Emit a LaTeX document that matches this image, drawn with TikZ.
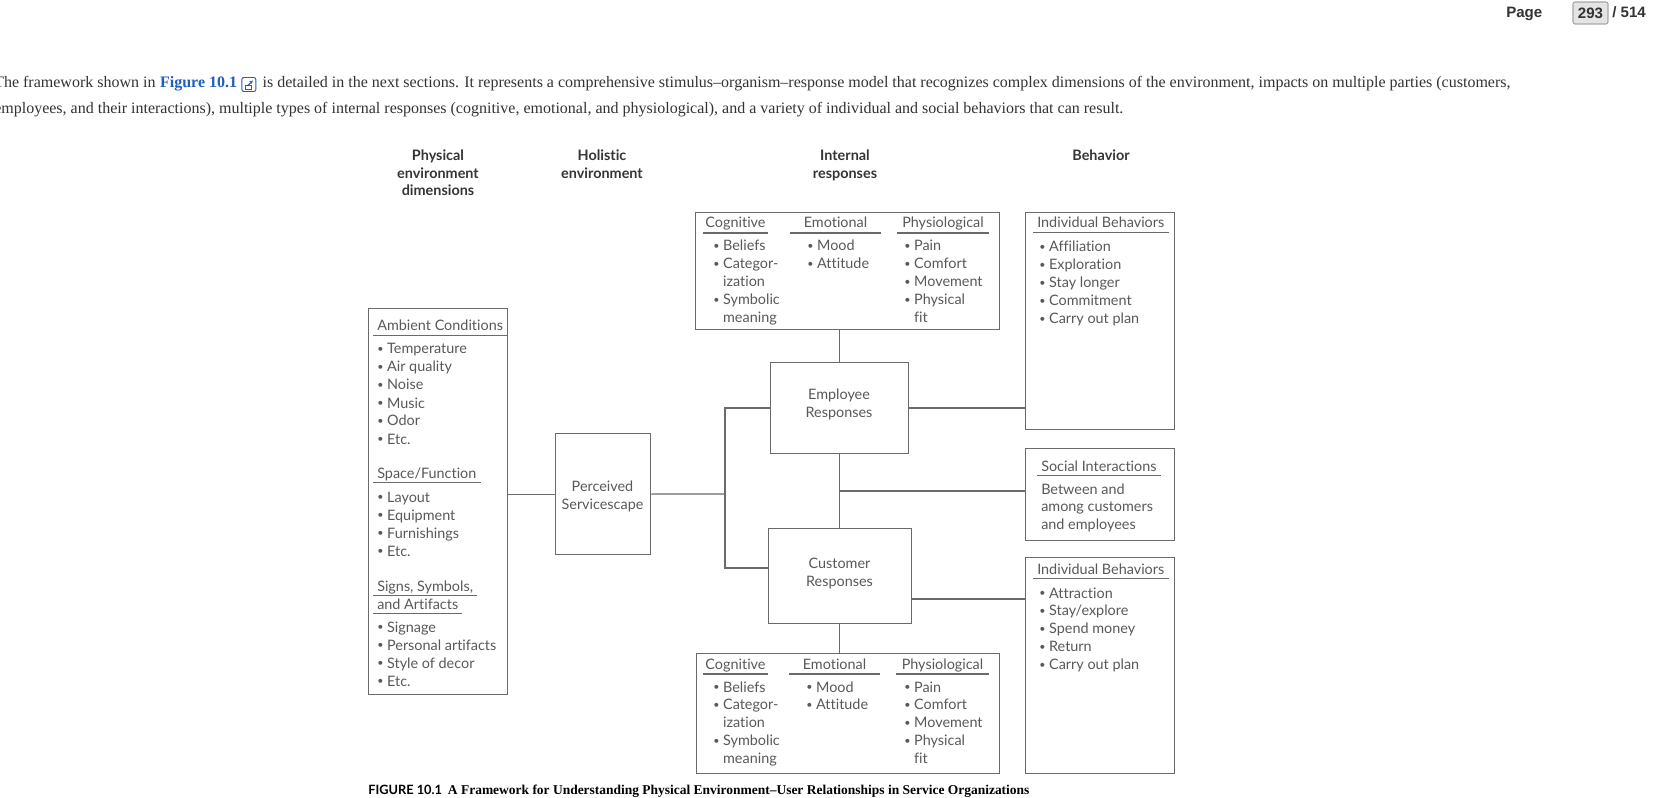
\documentclass[tikz,border=0pt]{standalone}
\usepackage{fontspec}
\setmainfont{Lato}[Ligatures={NoCommon,NoRequired,NoContextual}]
\newfontfamily\seriff{Liberation Serif}
\newfontfamily\arialf{Liberation Sans}
\usetikzlibrary{calc,arrows.meta}
\definecolor{txtgray}{HTML}{595959}
\definecolor{linegray}{HTML}{6A6A6A}
\definecolor{hdrgray}{HTML}{353535}
\definecolor{linkblue}{HTML}{1E5FC2}
\definecolor{paratext}{HTML}{333333}
\definecolor{pgfill}{HTML}{E4E4E4}
\definecolor{pgline}{HTML}{A8A8A8}
\newcommand\bul{\raisebox{0.9pt}{\fontsize{8}{8}\selectfont•}}
\tikzset{
  box/.style={draw=linegray, line width=0.85pt, rectangle, inner sep=0pt, anchor=north west},
  conn/.style={draw=linegray, line width=0.85pt},
  txt/.style={inner sep=0pt, font=\fontsize{10.8}{13}\selectfont, text=txtgray, anchor=base west},
  ctxt/.style={txt, anchor=base},
  bhdr/.style={inner sep=0pt, font=\fontsize{10.8}{13}\selectfont\bfseries, text=hdrgray, anchor=base},
  subhdr/.style={txt, inner xsep=3pt},
  uline/.style={draw=linegray, line width=0.8pt},
  para/.style={inner sep=0pt, font=\seriff\fontsize{12}{14}\selectfont, text=paratext, anchor=base west},
}
\newcommand\mkbox[5]{\node[box, minimum width={(#4-#2)*0.75pt}, minimum height={(#5-#3)*0.75pt}] (#1) at (#2,#3) {};}
\newcommand\tlines[6]{\foreach \t [count=\i] in {#6} {\node[#2] (#1\i) at (#3,{#4+#5*(\i-1)}) {\t};}}
\newcommand\uhdr[4]{\node[subhdr] (#1) at (#2,#3) {#4};
  \draw[uline] ([yshift=-3.6pt]#1.base west) -- ([yshift=-3.6pt]#1.base east);}
\newcommand\chdr[5]{\node[ctxt, minimum width={#4*0.75pt}] (#1) at (#2,#3) {#5};
  \draw[uline] ([yshift=-3.75pt]#1.base west) -- ([yshift=-3.75pt]#1.base east);}
\begin{document}
\begin{tikzpicture}[x=0.75pt,y=-0.75pt]
\useasboundingbox[fill=white] (0,0) rectangle (1663,798);

% ---- page header ----
\node[inner sep=0pt, anchor=base west, font=\arialf\bfseries\fontsize{11.3}{13}\selectfont, text=paratext] (pg) at (1506,18) {Page};
\node[draw=pgline, fill=pgfill, rounded corners=1.5pt, line width=0.8pt, minimum width={35*0.75pt}, minimum height={22*0.75pt}, inner sep=0pt, font=\arialf\bfseries\fontsize{11.3}{13}\selectfont, text=paratext] (pgnum) at (1590.5,13) {293};
\node[inner sep=0pt, anchor=base west, font=\arialf\bfseries\fontsize{11.3}{13}\selectfont, text=paratext] (pgtot) at (1612,18) {/ 514};

% ---- paragraph ----
\node[para] (p1a) at (-6,88) {The framework shown in};
\node[para, font=\seriff\bfseries\fontsize{12}{14}\selectfont, text=linkblue] (p1b) at ($(p1a.base east)+(3pt,0)$) {Figure 10.1};
\node[draw=linkblue, line width=0.7pt, rounded corners=1.5pt, minimum size=10.5pt, inner sep=0pt, anchor=south west] (icon) at ($(p1b.base east)+(3pt,-3pt)$) {};
\draw[linkblue, line width=0.7pt] ($(icon.center)+(-2.5pt,-0.5pt)$) rectangle ($(icon.center)+(2pt,-3.5pt)$);
\draw[linkblue, line width=0.7pt, -{Stealth[length=2.6pt,width=2.6pt]}] ($(icon.center)+(-1pt,-1pt)$) -- ($(icon.center)+(3pt,3pt)$);
\node[para] (p1c) at ($(icon.east |- p1a.base)+(4.5pt,0)$) {is detailed in the next sections. It represents a comprehensive stimulus–organism–response model that recognizes complex dimensions of the environment, impacts on multiple parties (customers,};
\node[para] (p2) at (-6,114) {employees, and their interactions), multiple types of internal responses (cognitive, emotional, and physiological), and a variety of individual and social behaviors that can result.};

% ---- column headers ----
\tlines{hphys}{bhdr}{438}{161}{17.5}{Physical,environment,dimensions}
\tlines{hhol}{bhdr}{602}{161}{17.5}{Holistic,environment}
\tlines{hint}{bhdr}{845}{161}{17.5}{Internal,responses}
\tlines{hbeh}{bhdr}{1101}{161}{17.5}{Behavior}

% ---- boxes ----
\mkbox{amb}{368}{308}{507}{694}
\mkbox{perc}{555}{433}{650}{554}
\mkbox{emp}{770}{362}{908}{453}
\mkbox{cus}{768}{528}{911}{623}
\mkbox{topI}{695}{212}{999}{329}
\mkbox{botI}{696}{653}{999}{773}
\mkbox{ibA}{1025}{212}{1174}{429}
\mkbox{soc}{1025}{448}{1174}{540}
\mkbox{ibB}{1025}{557}{1174}{773}

% ---- left box contents ----
\uhdr{ambh}{373}{331}{Ambient Conditions}
\tlines{amba}{txt}{377}{354}{18}{\bul\ Temperature,\bul\ Air quality,\bul\ Noise,\bul\ Music,\bul\ Odor,\bul\ Etc.}
\uhdr{spch}{373}{478}{Space/Function}
\tlines{spca}{txt}{377}{502}{18}{\bul\ Layout,\bul\ Equipment,\bul\ Furnishings,\bul\ Etc.}
\uhdr{sgnh}{373}{591}{Signs, Symbols,}
\uhdr{sgnk}{373}{609}{and Artifacts}
\tlines{sgna}{txt}{377}{632}{18}{\bul\ Signage,\bul\ Personal artifacts,\bul\ Style of decor,\bul\ Etc.}

% ---- middle boxes text ----
\tlines{perct}{ctxt}{602.5}{491}{18}{Perceived,Servicescape}
\tlines{empt}{ctxt}{839}{399}{18}{Employee,Responses}
\tlines{cust}{ctxt}{839.5}{568}{18}{Customer,Responses}

% ---- internal responses (top) ----
\chdr{tcog}{735.5}{228}{65}{Cognitive}
\chdr{temo}{835.5}{228}{90}{Emotional}
\chdr{tphy}{943}{228}{92}{Physiological}
\tlines{tcoga}{txt}{713}{251}{18}{\bul\ Beliefs,\bul\ Categor-,{\phantom{\bul\ }ization},\bul\ Symbolic,{\phantom{\bul\ }meaning}}
\tlines{temoa}{txt}{807}{251}{18}{\bul\ Mood,\bul\ Attitude}
\tlines{tphya}{txt}{904}{251}{18}{\bul\ Pain,\bul\ Comfort,\bul\ Movement,\bul\ Physical,{\phantom{\bul\ }fit}}

% ---- internal responses (bottom) ----
\chdr{bcog}{735.5}{669}{65}{Cognitive}
\chdr{bemo}{834.5}{669}{90}{Emotional}
\chdr{bphy}{942.5}{669}{92}{Physiological}
\tlines{bcoga}{txt}{713}{692}{17.9}{\bul\ Beliefs,\bul\ Categor-,{\phantom{\bul\ }ization},\bul\ Symbolic,{\phantom{\bul\ }meaning}}
\tlines{bemoa}{txt}{806}{692}{17.9}{\bul\ Mood,\bul\ Attitude}
\tlines{bphya}{txt}{904}{692}{17.9}{\bul\ Pain,\bul\ Comfort,\bul\ Movement,\bul\ Physical,{\phantom{\bul\ }fit}}

% ---- behavior boxes ----
\uhdr{ibAh}{1033}{228}{Individual Behaviors}
\tlines{ibAa}{txt}{1039}{252}{17.9}{\bul\ Affiliation,\bul\ Exploration,\bul\ Stay longer,\bul\ Commitment,\bul\ Carry out plan}
\uhdr{soch}{1037}{471}{Social Interactions}
\tlines{soca}{txt}{1041}{494}{17.6}{Between and,among customers,and employees}
\uhdr{ibBh}{1033}{574}{Individual Behaviors}
\tlines{ibBa}{txt}{1039}{598}{17.8}{\bul\ Attraction,\bul\ Stay/explore,\bul\ Spend money,\bul\ Return,\bul\ Carry out plan}

% ---- connectors ----
\draw[conn] (perc.west -| amb.east) -- (perc.west);
\coordinate (split) at (725,494);
\coordinate (cusin) at (768,568);
\draw[conn] (perc.east) -- (split);
\draw[conn] (emp.west) -| (split) |- (cusin);
\draw[conn] (emp.north) -- (emp.north |- topI.south);
\draw[conn] (emp.south) -- (emp.south |- cus.north);
\draw[conn] (cus.south -| emp.south) -- (emp.south |- botI.north);
\coordinate (socj) at (839,491);
\draw[conn] (socj) -- (socj -| soc.west);
\draw[conn] (emp.east) -- (emp.east -| ibA.west);
\coordinate (cusout) at (911,599);
\draw[conn] (cusout) -- (cusout -| ibB.west);

% ---- caption ----
\node[inner sep=0pt, anchor=base west, font=\bfseries\fontsize{9.6}{12}\selectfont, text=black] (capA) at (368,794) {FIGURE 10.1};
\node[inner sep=0pt, anchor=base west, font=\seriff\bfseries\fontsize{10.1}{12}\selectfont, text=black] (capB) at ($(capA.base east)+(4pt,0)$) {A Framework for Understanding Physical Environment–User Relationships in Service Organizations};
\end{tikzpicture}
\end{document}
